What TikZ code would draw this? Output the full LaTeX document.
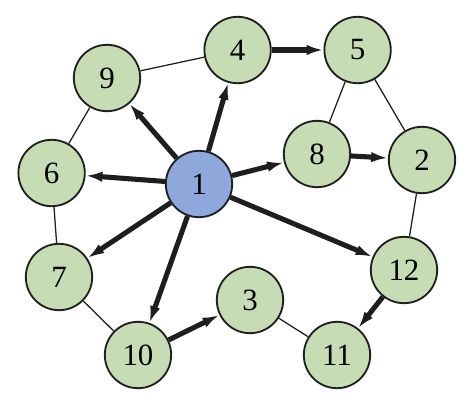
\documentclass[tikz,border=0pt]{standalone}
\usepackage{fontspec}
\setmainfont{Liberation Serif}
\usetikzlibrary{arrows.meta}
\definecolor{nodegreen}{RGB}{198,220,180}
\definecolor{nodeblue}{RGB}{143,168,220}
\definecolor{edgegray}{RGB}{30,30,30}
\begin{document}
\begin{tikzpicture}[
    vertex/.style={circle, draw=edgegray, line width=1.3pt, fill=nodegreen,
      minimum size=1.66cm, inner sep=0pt, font=\fontsize{22}{24}\selectfont},
    source/.style={vertex, fill=nodeblue},
    thin edge/.style={draw=edgegray, line width=0.9pt},
    thick arc/.style={draw=edgegray, line width=3.6pt,
      -{Latex[length=12pt,width=7.5pt]}}
  ]
  \useasboundingbox (0,0) rectangle (11.85,10.15);
  \draw
    (4.975,5.55) node[source] (1){1}
    (10.55,6.15) node[vertex] (2){2}
    (6.25,2.65) node[vertex] (3){3}
    (5.94,8.90) node[vertex] (4){4}
    (8.94,8.90) node[vertex] (5){5}
    (1.29,5.825) node[vertex] (6){6}
    (1.475,3.225) node[vertex] (7){7}
    (7.925,6.30) node[vertex] (8){8}
    (2.675,8.20) node[vertex] (9){9}
    (3.45,1.275) node[vertex] (10){10}
    (8.425,1.275) node[vertex] (11){11}
    (10.10,3.40) node[vertex] (12){12};
  \begin{scope}[thin edge]
    \draw (9) to (4);
    \draw (9) to (6);
    \draw (6) to (7);
    \draw (7) to (10);
    \draw (3) to (11);
    \draw (5) to (8);
    \draw (5) to (2);
    \draw (2) to (12);
  \end{scope}
  \begin{scope}[thick arc]
    \draw (1) to (9);
    \draw (1) to (4);
    \draw (1) to (6);
    \draw (1) to (8);
    \draw (1) to (7);
    \draw (1) to (10);
    \draw (1) to (12);
    \draw (4) to (5);
    \draw (8) to (2);
    \draw (12) to (11);
    \draw (10) to (3);
  \end{scope}
\end{tikzpicture}
\end{document}
